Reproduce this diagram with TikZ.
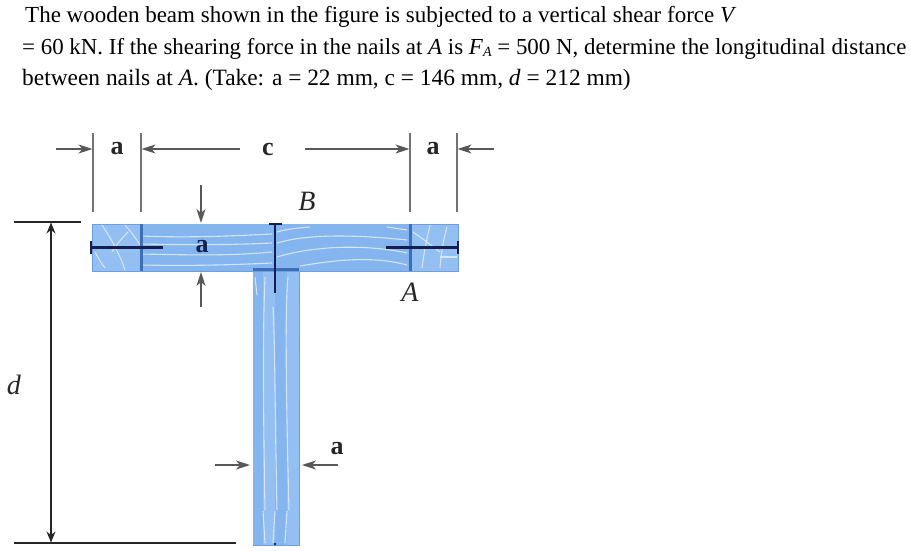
\documentclass[tikz,border=0pt]{standalone}
\usepackage{fontspec}
\setmainfont{Liberation Serif}
\usetikzlibrary{arrows.meta}
\definecolor{wood}{HTML}{85B5EE}
\definecolor{woodb}{HTML}{93BFF2}
\definecolor{woodedge}{HTML}{6E9FDF}
\definecolor{seam}{HTML}{3D6FB8}
\definecolor{nailc}{HTML}{141E50}
\definecolor{dimc}{HTML}{3A3A3A}
\tikzset{
  para/.style={anchor=base west,inner sep=0pt,text=black},
  lab/.style={inner sep=0pt,font=\fontsize{28}{30}\selectfont,text=black!85},
  dimlab/.style={inner sep=0pt,font=\fontsize{26}{30}\bfseries\selectfont,text=black!85},
  dimext/.style={draw=black!55,line width=1.5pt},
  dimarrow/.style={draw=dimc!85,line width=1.5pt,-{Stealth[length=14pt,width=9pt,inset=4pt]}},
  dimline/.style={draw=black!85,line width=1.2pt},
  grain/.style={draw=white!65!wood,line width=1.1pt},
  seamline/.style={draw=seam,line width=3pt},
  nail/.style={draw=nailc,line width=2.4pt},
}
\begin{document}
\begin{tikzpicture}[x=1pt,y=-1pt]
\useasboundingbox (0,0) rectangle (911,551);
% text
\node[para,font=\fontsize{23}{25}\selectfont] (l1) at (25,23) {The wooden beam shown in the figure is subjected to a vertical shear force \textit{V}};
\node[para,font=\fontsize{22.9}{25}\selectfont] (l2) at (22,55) {= 60 kN. If the shearing force in the nails at \textit{A} is \textit{F}\raisebox{-2pt}{\fontsize{14}{14}\selectfont\textit{A}} = 500 N, determine the longitudinal distance};
\node[para,font=\fontsize{23.4}{25}\selectfont] (l3) at (22,86) {between nails at \textit{A}. (Take: a = 22 mm, c = 146 mm, \textit{d} = 212 mm)};
% web
\fill[woodb,draw=woodedge,line width=.6pt] (253,268) rectangle (299,545);
\fill[wood] (253,268) rectangle (263,545);
\fill[wood] (275,268) rectangle (287,545);
\draw[grain] (255,277) -- (257,295);
\draw[grain] (265,277) .. controls (263,320) and (263,400) .. (265,510);
\draw[grain] (273,307) .. controls (275,340) and (275,420) .. (277,510);
\draw[grain] (288,277) .. controls (285,300) and (286,400) .. (289,510);
\draw[grain] (263,511) -- (265,543) (275,511) -- (273,543) (287,511) -- (285,543);
% flange
\fill[woodb,draw=woodedge,line width=.6pt] (92,224) rectangle (458,271);
\fill[wood] (141,224) rectangle (410,271);
\draw[grain] (141,236) .. controls (190,238) and (230,236) .. (272,234);
\draw[grain] (141,244) .. controls (190,245) and (230,245) .. (272,243);
\draw[grain] (141,254) .. controls (190,255) and (230,256) .. (272,252);
\draw[grain] (141,265) .. controls (190,266) and (230,265) .. (272,263);
\draw[grain] (277,232) .. controls (287,229) and (298,228) .. (310,227);
\draw[grain] (277,243) .. controls (300,236) and (340,233) .. (407,240);
\draw[grain] (277,257) .. controls (310,247) and (360,243) .. (407,253);
\draw[grain] (300,266) .. controls (330,261) and (370,255) .. (407,265);
\draw[grain] (387,227) -- (407,230);
\draw[grain] (102,225) .. controls (112,240) and (120,255) .. (125,270);
\draw[grain] (95,252) .. controls (98,258) and (102,264) .. (105,268);
\draw[grain] (125,225) .. controls (131,232) and (136,238) .. (140,245);
\draw[grain] (112,252) .. controls (116,245) and (122,238) .. (128,232);
\draw[grain] (422,268) .. controls (424,252) and (427,238) .. (430,225);
\draw[grain] (440,268) .. controls (441,252) and (444,238) .. (447,227);
\draw[grain] (413,232) .. controls (422,238) and (432,246) .. (440,252);
\draw[grain] (440,257) -- (457,257);
% seams
\draw[seamline] (141.5,224) -- (141.5,271);
\draw[seamline] (410,224) -- (410,271);
\draw[seamline] (253,269) -- (299,269);
% nails
\draw[nail] (91,247.5) -- (163,247.5);
\draw[nail,line width=2.8pt] (91,241) -- (91,254);
\draw[nail] (386,247.5) -- (458,247.5);
\draw[nail,line width=2.8pt] (458,241) -- (458,254);
\draw[nail] (275,224) -- (275,293);
\draw[nail,line width=2.8pt] (269,224) -- (282,224);
\fill[nailc] (275,544) circle (1.3);
% extension lines
\coordinate (e1t) at (93,133); \coordinate (e1b) at (93,212);
\coordinate (e2t) at (141,133); \coordinate (e2b) at (141,212);
\coordinate (e3t) at (410,133); \coordinate (e3b) at (410,212);
\coordinate (e4t) at (457,133); \coordinate (e4b) at (457,212);
\draw[dimext] (e1t) -- (e1b);
\draw[dimext] (e2t) -- (e2b);
\draw[dimext] (e3t) -- (e3b);
\draw[dimext] (e4t) -- (e4b);
% top dimension arrows
\coordinate (a1s) at (56,149); \coordinate (a1e) at (92.5,149);
\coordinate (a2s) at (240,149); \coordinate (a2e) at (141.5,149);
\coordinate (a3s) at (305,149); \coordinate (a3e) at (409.5,149);
\coordinate (a4s) at (494,149); \coordinate (a4e) at (457.5,149);
\draw[dimarrow] (a1s) -- (a1e);
\draw[dimarrow] (a2s) -- (a2e);
\draw[dimarrow] (a3s) -- (a3e);
\draw[dimarrow] (a4s) -- (a4e);
% flange thickness arrows
\coordinate (b1s) at (201,185); \coordinate (b1e) at (201,223);
\coordinate (b2s) at (201,307); \coordinate (b2e) at (201,272);
\draw[dimarrow] (b1s) -- (b1e);
\draw[dimarrow] (b2s) -- (b2e);
% web thickness arrows
\coordinate (w1s) at (215,465); \coordinate (w1e) at (250,465);
\coordinate (w2s) at (338,465); \coordinate (w2e) at (302,465);
\draw[dimarrow] (w1s) -- (w1e);
\draw[dimarrow] (w2s) -- (w2e);
% d dimension
\coordinate (d1s) at (14,543); \coordinate (d1e) at (236,543);
\coordinate (d2s) at (14,222); \coordinate (d2e) at (81,222);
\coordinate (d3s) at (51,222.5); \coordinate (d3e) at (51,542.5);
\draw[dimline] (d1s) -- (d1e);
\draw[dimline] (d2s) -- (d2e);
\draw[dimline,{Stealth[length=11pt,width=9pt]}-{Stealth[length=11pt,width=9pt]}] (d3s) -- (d3e);
% labels
\node[dimlab] (la1) at (117,149) {a};
\node[dimlab] (lc) at (268,149) {c};
\node[dimlab] (la2) at (433,149) {a};
\node[lab] (lB) at (307,201) {\textit{B}};
\node[dimlab,text=nailc] (la3) at (202,247) {a};
\node[lab] (lA) at (410,292) {\textit{A}};
\node[lab] (ld) at (14,385) {\textit{d}};
\node[dimlab] (la4) at (337,449) {a};
\end{tikzpicture}
\end{document}
